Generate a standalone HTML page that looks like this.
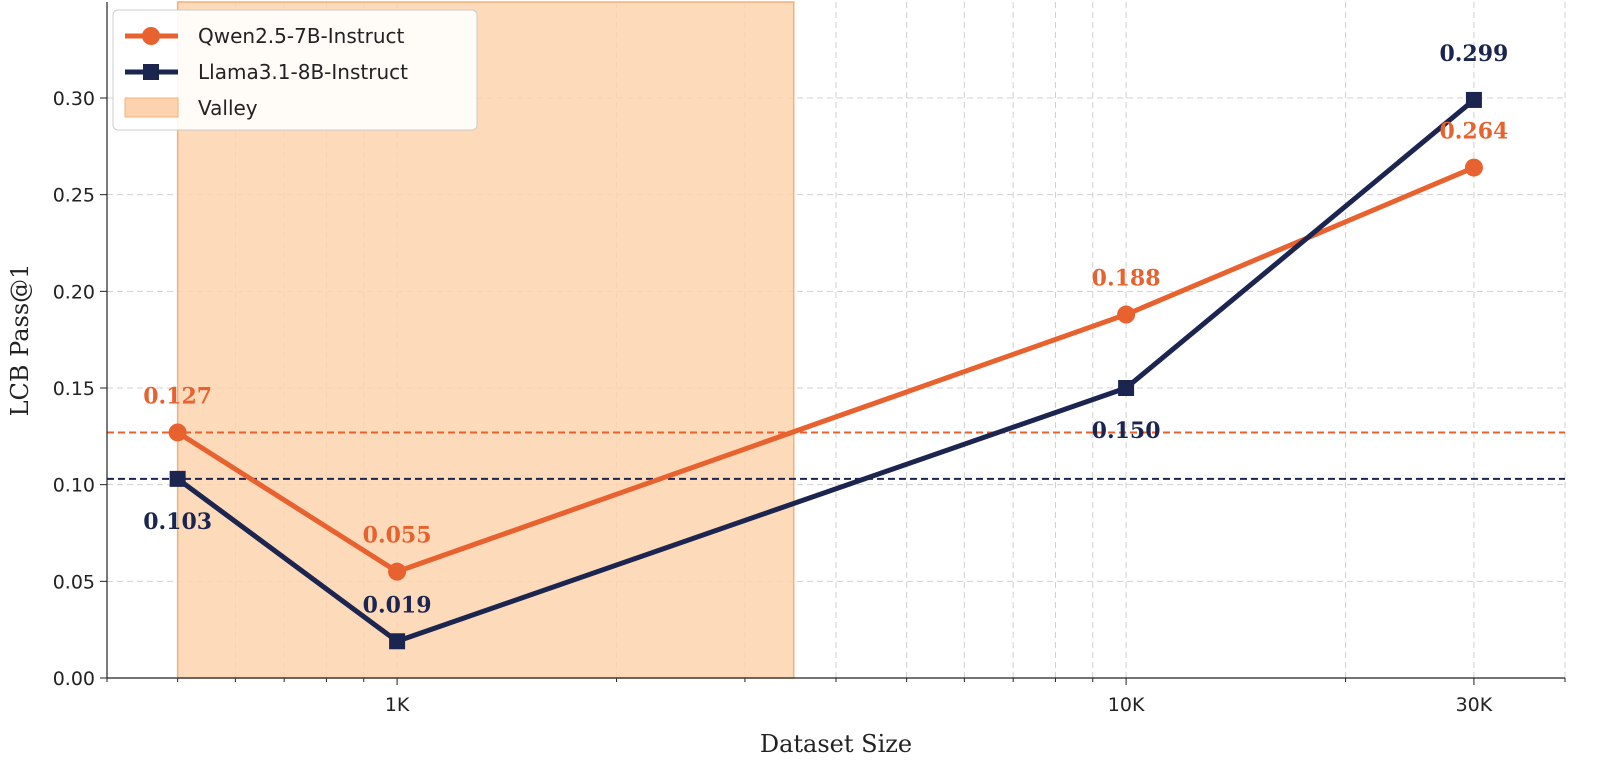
<!DOCTYPE html>
<html><head><meta charset="utf-8">
<style>
body{margin:0;background:#fff;}
svg{display:block;font-family:"DejaVu Sans","Liberation Sans",sans-serif;}
.ann{font-family:"DejaVu Serif","Liberation Serif",serif;font-weight:bold;font-size:22px;}
.tick{font-size:19px;fill:#222;}
</style></head><body>
<svg id="chart" width="1603" height="767"></svg>
<script>
const sizes=[500,1000,10000,30000];
const xTickLabels=["1K","10K","30K"];
const xTickValues=[1000,10000,30000];
const qwen=[0.127,0.055,0.188,0.264];
const llama=[0.103,0.019,0.150,0.299];
const yTicks=[0,0.05,0.10,0.15,0.20,0.25,0.30];
const valley=[500,3500];
const baselines=[0.127,0.103];

const NS="http://www.w3.org/2000/svg";
const svg=document.getElementById('chart');
const L=107,R=1565,T=2,B=678;
const xLo=Math.log10(400),xHi=Math.log10(40000);
const X=v=>L+(Math.log10(v)-xLo)/(xHi-xLo)*(R-L);
const Y=v=>678-v/0.30*580;
const OR="#e8622f",NV="#1b2550";
function mk(tag,attrs,parent){const e=document.createElementNS(NS,tag);for(const k in attrs)e.setAttribute(k,attrs[k]);(parent||svg).appendChild(e);return e;}

[400,500,600,700,800,900,1000,2000,3000,4000,5000,6000,7000,8000,9000,10000,20000,30000,40000].forEach(v=>{
 const g=mk('line',{x1:X(v),x2:X(v),y1:T,y2:B,stroke:"#d0d0d0","stroke-dasharray":"6,4","stroke-width":1});
 
 const isMajor=xTickValues.includes(v);
 const t=mk('line',{x1:X(v),x2:X(v),y1:B,y2:B+(isMajor?7:4),stroke:"#222","stroke-width":1});
 
});
yTicks.forEach(v=>{
 const g=mk('line',{x1:L,x2:R,y1:Y(v),y2:Y(v),stroke:"#d0d0d0","stroke-dasharray":"6,4","stroke-width":1});
 
 mk('line',{x1:L-7,x2:L,y1:Y(v),y2:Y(v),stroke:"#222"});
 const t=mk('text',{x:L-12,y:Y(v)+7,"text-anchor":"end",class:"tick"});t.textContent=v.toFixed(2);
 
});
const vr=mk('rect',{x:X(valley[0]),y:T,width:X(valley[1])-X(valley[0]),height:B-T,fill:"#fcd3ae","fill-opacity":0.85,stroke:"#f4b07a","stroke-width":1.5});

[[baselines[0],OR],[baselines[1],NV]].forEach(([v,c])=>{
 const l=mk('line',{x1:L,x2:R,y1:Y(v),y2:Y(v),stroke:c,"stroke-dasharray":"7,4","stroke-width":2});
 
});
mk('line',{x1:L,x2:L,y1:T,y2:B,stroke:"#222","stroke-width":1.2});
mk('line',{x1:L,x2:R,y1:B,y2:B,stroke:"#222","stroke-width":1.2});
xTickValues.forEach((v,i)=>{const t=mk('text',{x:X(v),y:711,"text-anchor":"middle",class:"tick"});t.textContent=xTickLabels[i];
 });
function series(vals,c,name,square){
 const p=mk('polyline',{points:sizes.map((s,i)=>X(s)+","+Y(vals[i])).join(" "),fill:"none",stroke:c,"stroke-width":5,"stroke-linejoin":"round"});
 
 sizes.forEach((s,i)=>{let m;
  if(square)m=mk('rect',{x:X(s)-8,y:Y(vals[i])-8,width:16,height:16,fill:c});
  else m=mk('circle',{cx:X(s),cy:Y(vals[i]),r:9,fill:c});
  });
}
series(qwen,OR,'qwen',false);
series(llama,NV,'llama',true);
function ann(s,v,c,dy){const t=mk('text',{x:X(s),y:Y(v)+dy,"text-anchor":"middle",class:"ann",fill:c});t.textContent=v.toFixed(3);
 }
sizes.forEach((s,i)=>{ann(s,qwen[i],OR,-29);ann(s,llama[i],NV,i===3?-39:(i===1?-29:50));});
const xt=mk('text',{x:836,y:752,"text-anchor":"middle","font-family":"DejaVu Serif,Liberation Serif,serif","font-size":24,fill:"#222"});xt.textContent="Dataset Size";

const yt=mk('text',{x:0,y:0,transform:"translate(28,340) rotate(-90)","text-anchor":"middle","font-family":"DejaVu Serif,Liberation Serif,serif","font-size":24,fill:"#222"});yt.textContent="LCB Pass@1";

const lg=mk('g',{});
mk('rect',{x:113,y:10,width:364,height:120,rx:5,fill:"#fff","fill-opacity":0.9,stroke:"#ccc"},lg);
mk('line',{x1:125,x2:178,y1:36,y2:36,stroke:OR,"stroke-width":5},lg);mk('circle',{cx:151,cy:36,r:9,fill:OR},lg);
mk('line',{x1:125,x2:178,y1:72,y2:72,stroke:NV,"stroke-width":5},lg);mk('rect',{x:143,y:64,width:16,height:16,fill:NV},lg);
mk('rect',{x:125,y:98,width:53,height:19,fill:"#fcd3ae",stroke:"#f4b07a"},lg);
[["Qwen2.5-7B-Instruct",43],["Llama3.1-8B-Instruct",79],["Valley",115]].forEach(([s,y])=>{const t=mk('text',{x:198,y:y,"font-size":20,fill:"#222"},lg);t.textContent=s;
 });
</script>
</body></html>
